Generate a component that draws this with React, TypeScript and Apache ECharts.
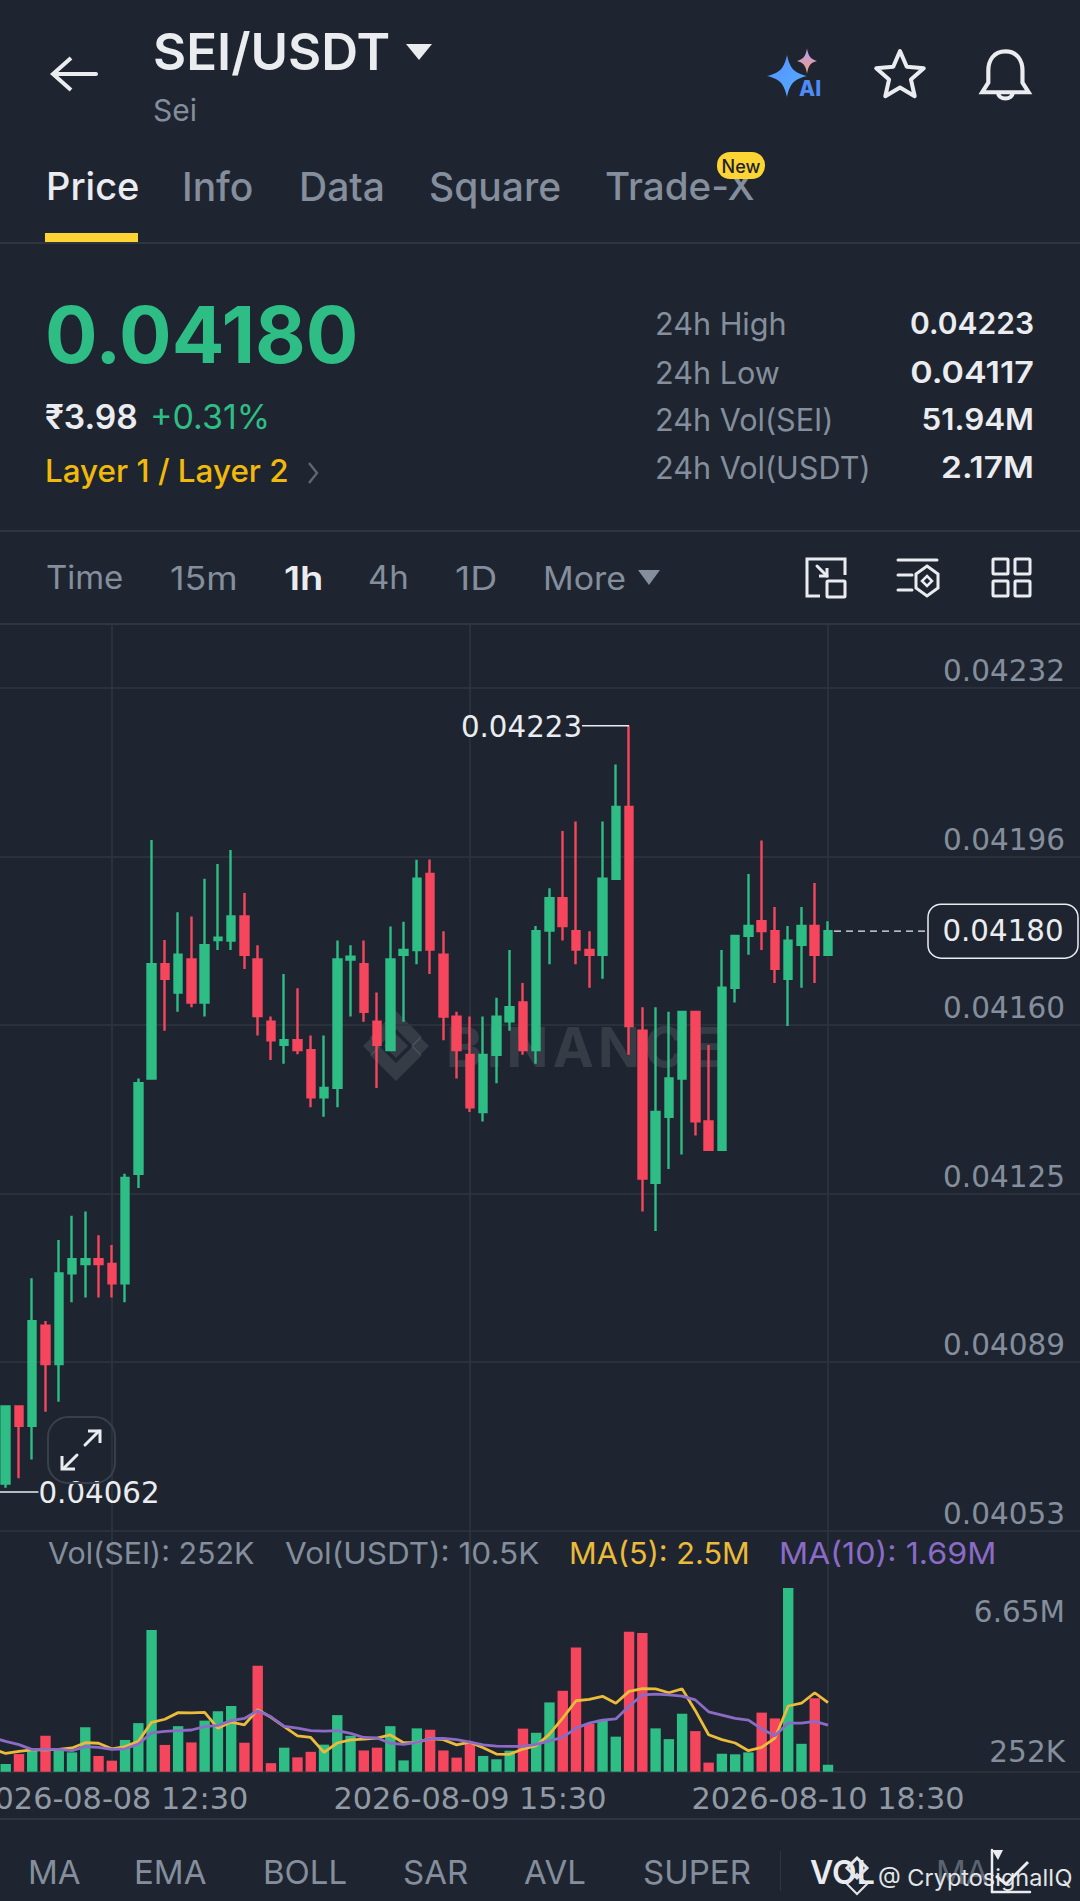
import React, { useEffect, useRef } from "react";
import * as echarts from "echarts";

// ---------- data ----------
const opens = [0.040662,0.040633,0.040796,0.040755,0.040967,0.040886,0.041078,0.041098,0.041108,0.041098,0.041057,0.041289,0.041491,0.041733,0.041673,0.041743,0.041652,0.041784,0.041783,0.041834,0.041743,0.041611,0.041562,0.041572,0.041551,0.041451,0.041471,0.041743,0.041733,0.041611,0.041551,0.041753,0.041763,0.041924,0.041753,0.041622,0.041541,0.041420,0.041541,0.041612,0.041652,0.041551,0.041804,0.041873,0.041803,0.041763,0.041753,0.041914,0.042066,0.041592,0.041270,0.041410,0.041491,0.041632,0.041400,0.041340,0.041683,0.041793,0.041824,0.041803,0.041702,0.041774,0.041814,0.041753];
const closes = [0.040704,0.040796,0.040755,0.040977,0.040886,0.041078,0.041108,0.041108,0.041098,0.041057,0.041280,0.041481,0.041733,0.041702,0.041753,0.041652,0.041773,0.041789,0.041834,0.041753,0.041623,0.041572,0.041572,0.041551,0.041451,0.041471,0.041743,0.041749,0.041632,0.041562,0.041743,0.041763,0.041914,0.041764,0.041622,0.041551,0.041430,0.041541,0.041622,0.041642,0.041551,0.041803,0.041873,0.041814,0.041764,0.041753,0.041914,0.042066,0.041602,0.041279,0.041420,0.041491,0.041632,0.041400,0.041340,0.041683,0.041793,0.041814,0.041803,0.041723,0.041783,0.041814,0.041753,0.041803];
const lows = [0.040615,0.040624,0.040644,0.040684,0.040785,0.040806,0.041017,0.041027,0.041027,0.041027,0.041017,0.041259,0.041491,0.041592,0.041632,0.041642,0.041622,0.041763,0.041763,0.041723,0.041582,0.041530,0.041522,0.041542,0.041430,0.041410,0.041430,0.041622,0.041611,0.041471,0.041551,0.041611,0.041733,0.041712,0.041572,0.041491,0.041420,0.041400,0.041481,0.041592,0.041541,0.041522,0.041733,0.041783,0.041733,0.041683,0.041702,0.041914,0.041541,0.041209,0.041168,0.041299,0.041330,0.041370,0.041340,0.041340,0.041652,0.041753,0.041763,0.041693,0.041602,0.041683,0.041693,0.041753];
const highs = [0.040746,0.040796,0.040796,0.041068,0.040977,0.041149,0.041200,0.041209,0.041159,0.041138,0.041289,0.041491,0.041996,0.041784,0.041843,0.041834,0.041914,0.041945,0.041975,0.041884,0.041773,0.041622,0.041712,0.041682,0.041582,0.041582,0.041783,0.041773,0.041783,0.041673,0.041813,0.041823,0.041954,0.041955,0.041803,0.041632,0.041622,0.041622,0.041662,0.041763,0.041693,0.041814,0.041894,0.042015,0.042035,0.041803,0.042035,0.042156,0.042238,0.041642,0.041642,0.041632,0.041632,0.041632,0.041562,0.041763,0.041793,0.041924,0.041995,0.041854,0.041814,0.041854,0.041905,0.041824];
const volumes = [500000,280000,640000,760000,1300000,760000,700000,1610000,570000,400000,1150000,1760000,5130000,970000,1650000,1060000,1850000,2190000,2380000,1050000,3840000,310000,870000,520000,720000,980000,2050000,1300000,770000,870000,1650000,410000,1570000,1520000,770000,510000,1030000,570000,450000,760000,1560000,1410000,2510000,2930000,4500000,1730000,1880000,1270000,5070000,5020000,1570000,1180000,2100000,1470000,330000,650000,630000,700000,2140000,1930000,6650000,1010000,2660000,252000];
const ma5 = [830000,660000,740000,790000,790000,810000,860000,1050000,1030000,830000,910000,1100000,1790000,1900000,2140000,2130000,2150000,1570000,1800000,1700000,2250000,1970000,1630000,1300000,1240000,700000,1040000,1150000,1180000,1220000,1330000,1050000,1060000,1200000,1160000,970000,1070000,870000,640000,630000,820000,940000,1360000,1940000,2570000,2620000,2730000,2480000,2910000,3010000,3000000,2860000,3000000,2210000,1340000,1160000,1040000,760000,880000,1220000,2380000,2480000,2860000,2500000];
const ma10 = [1240000,1100000,980000,800000,810000,810000,760000,910000,880000,810000,830000,1000000,1410000,1460000,1490000,1510000,1630000,1680000,1850000,1930000,2210000,1990000,1640000,1580000,1490000,1470000,1490000,1390000,1240000,1220000,1030000,990000,1060000,1200000,1210000,1160000,1070000,970000,930000,920000,920000,990000,1120000,1240000,1580000,1760000,1870000,1910000,2370000,2780000,2810000,2780000,2740000,2600000,2170000,2050000,1930000,1870000,1550000,1300000,1760000,1760000,1820000,1690000];

const priceTicks = [0.040533, 0.04089, 0.041247, 0.041604, 0.041961, 0.042318];
const volumeTicks = [252000, 6650000];
const volumeTickLabels = ["252K", "6.65M"];
const dateTickIndexes = [9, 36, 63];
const extremes = [
  { index: 48, price: 0.042238, label: "0.04223", side: "left", reach: 47 },
  { index: 0, price: 0.040615, label: "0.04062", side: "right", reach: 46 },
];
const lastIndex = 63;
const lastPrice = 0.041803;
const lastPriceLabel = "0.04180";

const tabs = [["Price", 46, 38], ["Info", 182, 39], ["Data", 299, 39], ["Square", 429, 39], ["Trade-X", 605, 38.6]] as const;
const statRows = [
  ["24h High", "0.04223", 323, 1],
  ["24h Low", "0.04117", 372, 1.135],
  ["24h Vol(SEI)", "51.94M", 419, 1.045],
  ["24h Vol(USDT)", "2.17M", 467, 1.118],
] as const;
const intervals = [["Time", 46, 1.03], ["15m", 170, 1.12], ["1h", 284, 1.19], ["4h", 368, 1.03], ["1D", 455, 1.17], ["More", 543, 1.06]] as const;
const indicators = [["MA", 28], ["EMA", 134], ["BOLL", 263], ["SAR", 403], ["AVL", 524], ["SUPER", 643]] as const;

const BG = "#1E2530";
const GRID = "#30363F";
const GREEN = "#2EBD85";
const RED = "#F6465D";
const GREY = "#848E9C";
const WHITE = "#EAECEF";
const YELLOW = "#F0B90B";
const GOLD = "#EBBB3A";
const PURPLE = "#8B6BC6";
const FONT = "Inter";
const NUM_FONT = "DejaVu Sans";

// one category per hour; slots to the right stay empty, as in the app
const categories = Array.from({ length: 83 }, (_, i) => {
  const d = new Date(Date.UTC(2026, 7, 8, 3, 30) + i * 3600000);
  const p = (n: number) => String(n).padStart(2, "0");
  return `${d.getUTCFullYear()}-${p(d.getUTCMonth() + 1)}-${p(d.getUTCDate())} ${p(d.getUTCHours())}:${p(d.getUTCMinutes())}`;
});

const candleData = opens.map((o, i) => [o, closes[i], lows[i], highs[i]]);
const volumeData = volumes.map((v, i) => ({
  value: v,
  itemStyle: { color: closes[i] >= opens[i] ? GREEN : RED },
}));

echarts.graphic.registerShape("bell", echarts.graphic.extendPath("M20 2C10 2 6 10 6 18L6 28L1 36L39 36L34 28L34 18C34 10 30 2 20 2ZM14 36C14 43 26 43 26 36", {}));
echarts.graphic.registerShape("spark", echarts.graphic.extendPath("M0 -20C3 -7 7 -3 20 0C7 3 3 7 0 20C-3 7 -7 3 -20 0C-7 -3 -3 -7 0 -20Z", {}));

const t = (text: string, x: number, y: number, fontSize: number, fill: string, fontWeight: number | string = 400, align = "left", z = 20, scaleX = 1) => ({
  type: "text",
  z,
  silent: true,
  x,
  y,
  scaleX,
  style: { text, fontSize, fontWeight, fontFamily: FONT, fill, align, textAlign: align, verticalAlign: "middle", textVerticalAlign: "middle" },
});
const hr = (y: number) => ({ type: "rect", z: 20, shape: { x: 0, y: y - 1, width: 1080, height: 2 }, style: { fill: "#2F3640" } });
const ln = (x1: number, y1: number, x2: number, y2: number, stroke = WHITE, lineWidth = 3) => ({
  type: "line", z: 20, shape: { x1, y1, x2, y2 }, style: { stroke, lineWidth, lineCap: "round" },
});
const poly = (points: number[][], style: any, z = 20, closed = true) => ({ type: closed ? "polygon" : "polyline", z, shape: { points }, style });
const box = (x: number, y: number, width: number, height: number, r: number, stroke = WHITE, lineWidth = 3) => ({
  type: "rect", z: 20, shape: { x, y, width, height, r }, style: { fill: "none", stroke, lineWidth },
});
const starPoints = (cx: number, cy: number, R: number, r: number) =>
  Array.from({ length: 10 }, (_, i) => {
    const a = -Math.PI / 2 + (i * Math.PI) / 5;
    const m = i % 2 ? r : R;
    return [cx + m * Math.cos(a), cy + m * Math.sin(a)];
  });

const markColor = "rgba(255,255,255,0.11)";
const diamond = (cx: number, cy: number, r: number) => poly([[cx, cy - r], [cx + r, cy], [cx, cy + r], [cx - r, cy]], { fill: markColor }, -1);
const diamondLine = (cx: number, cy: number, r: number, lineWidth = 2.5, stroke = WHITE) =>
  poly([[cx, cy - r], [cx + r, cy], [cx, cy + r], [cx - r, cy]], { fill: "none", stroke, lineWidth });
const chevron = (cx: number, cy: number, dir: number) =>
  poly([[cx - 26, cy + dir * 14], [cx, cy - dir * 12], [cx + 26, cy + dir * 14], [cx + 17, cy + dir * 23], [cx, cy + dir * 6], [cx - 17, cy + dir * 23]], { fill: markColor }, -1);

const graphics: any[] = [
  // header
  poly([[71, 58], [53, 74], [71, 90]], { fill: "none", stroke: WHITE, lineWidth: 4 }, 20, false),
  ln(56, 74, 96, 74, WHITE, 4),
  t("SEI/USDT", 153, 51, 51, WHITE, 600),
  poly([[406, 44], [432, 44], [419, 60]], { fill: WHITE }),
  t("Sei", 153, 110, 30, GREY),
  { type: "spark", z: 20, x: 787, y: 76, scaleX: 1, scaleY: 1.05, style: { fill: new echarts.graphic.LinearGradient(0, 0, 1, 1, [{ offset: 0, color: "#5A8CFF" }, { offset: 1, color: "#4FB2FF" }]) } },
  { type: "spark", z: 20, x: 807, y: 61, scaleX: 0.5, scaleY: 0.62, style: { fill: new echarts.graphic.LinearGradient(0, 0, 0, 1, [{ offset: 0, color: "#B79BF5" }, { offset: 1, color: "#F2A07C" }]) } },
  t("AI", 799, 88, 21, "#4F8BF5", 800),
  poly(starPoints(900, 76, 25, 11.5), { fill: "none", stroke: WHITE, lineWidth: 4, lineJoin: "round" }),
  { type: "bell", z: 20, x: 981, y: 49, scaleX: 1.22, scaleY: 1.2, style: { fill: "none", stroke: WHITE, lineWidth: 3.4 } },

  // tabs
  ...tabs.map(([label, x, size], i) => t(label, x, 186, size, i === 0 ? WHITE : GREY, 500)),
  { type: "rect", z: 20, shape: { x: 45, y: 233, width: 93, height: 9 }, style: { fill: "#FCD535" } },
  { type: "rect", z: 21, shape: { x: 717, y: 152, width: 48, height: 27, r: 13 }, style: { fill: "#FCD535" } },
  t("New", 741, 166, 18, "#1E2329", 500, "center", 22),
  hr(243),

  // price summary
  t("0.04180", 45, 334, 78, GREEN, 700),
  t("₹3.98", 45, 416, 33.6, WHITE, 600),
  t("+0.31%", 150, 416, 34, GREEN, 400),
  t("Layer 1 / Layer 2", 45, 471, 31.4, YELLOW, 500),
  poly([[309, 463], [317, 473], [309, 483]], { fill: "none", stroke: "#5E6673", lineWidth: 2.4 }, 20, false),
  ...statRows.flatMap(([label, value, y, sx]) => [t(label, 655, y, 30.6, GREY), t(value, 1034, y, 30, WHITE, 600, "right", 20, sx)]),
  hr(531),

  // interval row
  ...intervals.map(([label, x, sx]) => t(label, x, 578, 32, label === "1h" ? WHITE : GREY, label === "1h" ? 600 : 400, "left", 20, sx)),
  poly([[638, 570], [660, 570], [649, 585]], { fill: GREY }),
  poly([[845, 575], [845, 559], [807, 559], [807, 596], [820, 596]], { fill: "none", stroke: WHITE, lineWidth: 3 }, 20, false),
  box(827, 581, 18, 16, 1),
  ln(817, 566, 827, 576, WHITE, 3),
  poly([[827, 568], [827, 576], [819, 576]], { fill: "none", stroke: WHITE, lineWidth: 3 }, 20, false),
  ln(898, 560, 937, 560),
  ln(898, 575, 912, 575),
  ln(898, 590, 912, 590),
  poly([[927, 566], [938, 574], [938, 588], [927, 596], [916, 588], [916, 574]], { fill: "none", stroke: WHITE, lineWidth: 3 }),
  diamondLine(927, 581, 5),
  box(993, 559, 15, 15, 1),
  box(1015, 559, 15, 15, 1),
  box(993, 581, 15, 15, 1),
  box(1015, 581, 15, 15, 1),
  hr(624),

  // watermark under the candles
  diamond(396, 1046, 12),
  diamond(372, 1046, 9),
  diamond(420, 1046, 9),
  chevron(396, 1023, 1),
  chevron(396, 1069, -1),
  t("B\u200AI\u200AN\u200AA\u200AN\u200AC\u200AE", 446, 1047, 55, markColor, 700, "left", -1),

  // expand button
  { type: "rect", z: 20, shape: { x: 48, y: 1417, width: 67, height: 66, r: 20 }, style: { fill: "none", stroke: "#3A404B", lineWidth: 2 } },
  ln(85, 1445, 99, 1431, WHITE, 3),
  poly([[88, 1431], [100, 1431], [100, 1443]], { fill: "none", stroke: WHITE, lineWidth: 3 }, 20, false),
  ln(64, 1468, 77, 1455, WHITE, 3),
  poly([[62, 1456], [62, 1469], [75, 1469]], { fill: "none", stroke: WHITE, lineWidth: 3 }, 20, false),

  // volume legend
  t("Vol(SEI): 252K", 48, 1553, 30, GREY, 400, "left", 20, 1.014),
  t("Vol(USDT): 10.5K", 285, 1553, 30, GREY, 400, "left", 20, 1.052),
  t("MA(5): 2.5M", 569, 1553, 30, GOLD, 400, "left", 20, 1.022),
  t("MA(10): 1.69M", 779, 1553, 30, PURPLE, 400, "left", 20, 1.075),

  // bottom row
  hr(1819),
  ...indicators.map(([label, x]) => t(label, x, 1872, 33, GREY)),
  { type: "rect", z: 20, shape: { x: 780, y: 1851, width: 1, height: 40 }, style: { fill: "#2F3640" } },
  t("VOL", 810, 1872, 32, WHITE, 600),
  t("MA", 936, 1872, 33, "#5C6370"),
  t("@ CryptosignalIQ", 878, 1877, 23.5, "#E3E5E8"),
  // small mark beside the credit
  diamondLine(857, 1868, 10, 3, "#E3E5E8"),
  diamondLine(857, 1884, 10, 2, "#E3E5E8"),
  poly([[992, 1850], [1003, 1850], [998, 1860]], { fill: WHITE }),
  ln(992, 1850, 992, 1892, WHITE, 2.5),
  ln(992, 1892, 1030, 1892, WHITE, 2.5),
  poly([[996, 1876], [1006, 1884], [1028, 1862]], { fill: "none", stroke: WHITE, lineWidth: 3 }, 20, false),
];

function renderExtreme(_: any, api: any) {
  const e = extremes[api.value(0)];
  const [x, y] = api.coord([e.index, e.price]);
  const endX = e.side === "left" ? x - e.reach : x + e.reach;
  return {
    type: "group",
    children: [
      { type: "line", shape: { x1: x, y1: y, x2: endX, y2: y }, style: { stroke: WHITE, lineWidth: 1.6 } },
      {
        type: "text",
        x: endX,
        y: y + 1.5,
        style: { text: e.label, fontSize: 29.3, fontFamily: NUM_FONT, fill: WHITE, align: e.side === "left" ? "right" : "left", textAlign: e.side === "left" ? "right" : "left", verticalAlign: "middle", textVerticalAlign: "middle" },
      },
    ],
  };
}

function renderLastPrice(_: any, api: any) {
  const [x, y] = api.coord([lastIndex, lastPrice]);
  return {
    type: "group",
    children: [
      { type: "line", shape: { x1: x + 6, y1: y, x2: 928, y2: y }, style: { stroke: WHITE, lineWidth: 1.4, lineDash: [7, 5] } },
      { type: "rect", shape: { x: 928, y: y - 27, width: 150, height: 54, r: 13 }, style: { fill: BG, stroke: WHITE, lineWidth: 1.5 } },
      { type: "text", x: 1003, y, style: { text: lastPriceLabel, fontSize: 29.3, fontFamily: NUM_FONT, fill: WHITE, align: "center", textAlign: "center", verticalAlign: "middle", textVerticalAlign: "middle" } },
    ],
  };
}

const showDateTick = (index: number) => dateTickIndexes.includes(index);

export default function App() {
  const ref = useRef<HTMLDivElement>(null);
  useEffect(() => {
    document.body.style.margin = "0";
    document.body.style.background = BG;
    const chart = echarts.init(ref.current!, undefined, { renderer: "svg" });
    chart.setOption({
      animation: false,
      backgroundColor: BG,
      textStyle: { fontFamily: FONT },
      grid: [
        { left: -7.56, top: 624, width: 1087.56, height: 906.7, outerBoundsMode: "none" },
        { left: -7.56, top: 1530.7, width: 1087.56, height: 241, outerBoundsMode: "none" },
      ],
      xAxis: [
        {
          type: "category", gridIndex: 0, data: categories, boundaryGap: false,
          axisLine: { show: false }, axisTick: { show: false }, axisLabel: { show: false },
          splitLine: { show: true, interval: showDateTick, lineStyle: { color: GRID, width: 1.5 } },
        },
        {
          type: "category", gridIndex: 1, data: categories, boundaryGap: false,
          axisLine: { show: true, lineStyle: { color: GRID, width: 1.5 } }, axisTick: { show: false },
          axisLabel: { show: true, interval: showDateTick, color: "#929AA5", fontSize: 30.3, fontFamily: NUM_FONT, margin: 12 },
          splitLine: { show: true, interval: showDateTick, lineStyle: { color: GRID, width: 1.5 } },
        },
      ],
      yAxis: [
        {
          type: "value", gridIndex: 0, position: "right", min: 0.040533, max: 0.0424536,
          axisLine: { show: false },
          axisTick: { show: false, customValues: priceTicks },
          axisLabel: {
            inside: true, customValues: priceTicks, margin: 15, color: GREY, fontSize: 29.5, fontFamily: NUM_FONT,
            verticalAlign: "bottom", padding: [0, 0, 2, 0],
            formatter: (v: number) => v.toFixed(5),
          },
          splitLine: { show: true, lineStyle: { color: GRID, width: 1.5 } },
        },
        {
          type: "value", gridIndex: 1, position: "right", min: 0, max: 8730000,
          axisLine: { show: false }, axisTick: { show: false }, splitLine: { show: false },
          axisLabel: {
            inside: true, customValues: volumeTicks, margin: 15, color: GREY, fontSize: 29.5, fontFamily: NUM_FONT,
            formatter: (v: number) => {
              const i = volumeTicks.indexOf(v);
              return i === 0 ? `{b|${volumeTickLabels[0]}}` : `{t|${volumeTickLabels[i]}}`;
            },
            rich: {
              b: { color: GREY, fontSize: 29.5, fontFamily: NUM_FONT, padding: [0, 0, 26, 0] },
              t: { color: GREY, fontSize: 29.5, fontFamily: NUM_FONT, padding: [47, 0, 0, 0] },
            },
          },
        },
      ],
      graphic: { elements: graphics },
      series: [
        {
          type: "candlestick", name: "SEI/USDT", xAxisIndex: 0, yAxisIndex: 0, data: candleData, barWidth: 8,
          itemStyle: { color: GREEN, color0: RED, borderColor: GREEN, borderColor0: RED, borderWidth: 2.4 },
          z: 3,
        },
        { type: "custom", xAxisIndex: 0, yAxisIndex: 0, data: extremes.map((_, i) => [i]), encode: { x: -1, y: -1 }, clip: false, renderItem: renderExtreme, z: 5, silent: true },
        { type: "custom", xAxisIndex: 0, yAxisIndex: 0, data: [[0]], encode: { x: -1, y: -1 }, clip: false, renderItem: renderLastPrice, z: 5, silent: true },
        { type: "bar", name: "Vol", xAxisIndex: 1, yAxisIndex: 1, data: volumeData, barWidth: 10.4, z: 3 },
        { type: "line", name: "MA(5)", xAxisIndex: 1, yAxisIndex: 1, data: ma5, showSymbol: false, symbol: "none", lineStyle: { color: GOLD, width: 2.8 }, z: 4 },
        { type: "line", name: "MA(10)", xAxisIndex: 1, yAxisIndex: 1, data: ma10, showSymbol: false, symbol: "none", lineStyle: { color: PURPLE, width: 2.8 }, z: 5 },
      ],
    });
    return () => chart.dispose();
  }, []);
  return <div ref={ref} style={{ position: "absolute", left: 0, top: 0, width: 1080, height: 1901 }} />;
}
